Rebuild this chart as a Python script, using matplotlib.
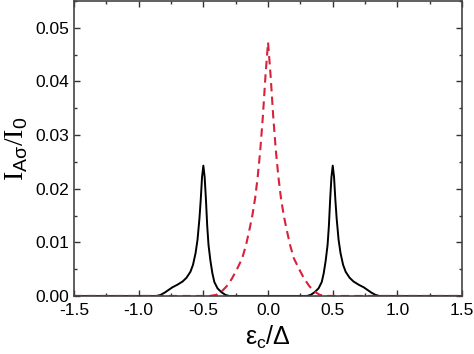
import matplotlib
matplotlib.use("Agg")
import matplotlib.pyplot as plt
from matplotlib.ticker import MultipleLocator

plt.rcParams['font.family'] = ['Liberation Sans', 'DejaVu Sans']
plt.rcParams['mathtext.fontset'] = 'custom'
plt.rcParams['mathtext.rm'] = 'Liberation Serif'
plt.rcParams['mathtext.sf'] = 'Liberation Sans'
plt.rcParams['mathtext.it'] = 'Liberation Sans'

black_x = [-1.5, -0.86, -0.83, -0.80, -0.77, -0.74, -0.70, -0.66, -0.63, -0.60, -0.58, -0.56, -0.545, -0.53, -0.52, -0.51, -0.50,
           -0.49, -0.48, -0.47, -0.46, -0.445, -0.43, -0.415, -0.39, -0.36, -0.33, -0.30,
           0.30, 0.33, 0.36, 0.39, 0.415, 0.43, 0.445, 0.46, 0.47, 0.48, 0.49,
           0.50, 0.51, 0.52, 0.53, 0.545, 0.56, 0.58, 0.60, 0.63, 0.66, 0.70, 0.74, 0.77, 0.80, 0.83, 0.86, 1.5]
black_y = [0.0, 0.0, 0.0002, 0.0006, 0.0011, 0.0016, 0.0021, 0.0027, 0.0034, 0.0045, 0.0058, 0.0080, 0.0105, 0.0145, 0.0180, 0.0222, 0.0243,
           0.0222, 0.0180, 0.0130, 0.0095, 0.0065, 0.0042, 0.0026, 0.0014, 0.0007, 0.0002, 0.0,
           0.0, 0.0002, 0.0007, 0.0014, 0.0026, 0.0042, 0.0065, 0.0095, 0.0130, 0.0180, 0.0222,
           0.0243, 0.0222, 0.0180, 0.0145, 0.0105, 0.0080, 0.0058, 0.0045, 0.0034, 0.0027, 0.0021, 0.0016, 0.0011, 0.0006, 0.0002, 0.0, 0.0]

red_x = [-1.5, -0.45, -0.40, -0.36, -0.32, -0.28, -0.24, -0.20, -0.17, -0.14, -0.12, -0.10, -0.08, -0.06, -0.04, -0.02, 0.0,
         0.02, 0.04, 0.06, 0.08, 0.10, 0.12, 0.14, 0.17, 0.20, 0.24, 0.28, 0.32, 0.36, 0.40, 0.45, 1.5]
red_y = [0.0, 0.0, 0.0002, 0.0008, 0.0018, 0.0032, 0.0050, 0.0070, 0.0095, 0.0128, 0.0152, 0.0182, 0.0222, 0.0272, 0.0335, 0.0410, 0.0473,
         0.0410, 0.0335, 0.0272, 0.0222, 0.0182, 0.0152, 0.0128, 0.0095, 0.0070, 0.0050, 0.0032, 0.0018, 0.0008, 0.0002, 0.0, 0.0]

fig = plt.figure(figsize=(4.74, 3.54), dpi=100)
ax = fig.add_axes([0.156, 0.164, 0.819, 0.833])

ax.plot(black_x, black_y, color='black', lw=1.4)
ax.plot(red_x, red_y, color='#d8213a', lw=1.5, dashes=(4, 2.5))

ax.set_xlim(-1.5, 1.5)
ax.set_ylim(0, 0.055)
ax.xaxis.set_minor_locator(MultipleLocator(0.25))
ax.yaxis.set_minor_locator(MultipleLocator(0.005))
ax.set_xticks([-1.5, -1.0, -0.5, 0.0, 0.5, 1.0, 1.5])
ax.set_xticklabels(['-1.5', '-1.0', '-0.5', '0.0', '0.5', '1.0', '1.5'])
ax.set_yticks([0.0, 0.01, 0.02, 0.03, 0.04, 0.05])
ax.set_yticklabels(['0.00', '0.01', '0.02', '0.03', '0.04', '0.05'])
ax.tick_params(which='both', direction='in', top=True, right=True, labelsize=12.5, color='#333333')
ax.tick_params(which='major', length=4, width=1)
ax.tick_params(axis='x', which='major', pad=5)
ax.tick_params(which='minor', length=2.5, width=1)
for s in ax.spines.values():
    s.set_color('#444444')
    s.set_linewidth(1.2)

ax.set_xlabel(r'$\mathsf{\epsilon_c/\Delta}$', fontsize=18, labelpad=4)
ax.set_ylabel(r'$\mathrm{I}_{\mathsf{A\sigma}}/\mathrm{I}_{\mathsf{0}}$', fontsize=20, labelpad=4)

fig.savefig('out.png', dpi=100)
